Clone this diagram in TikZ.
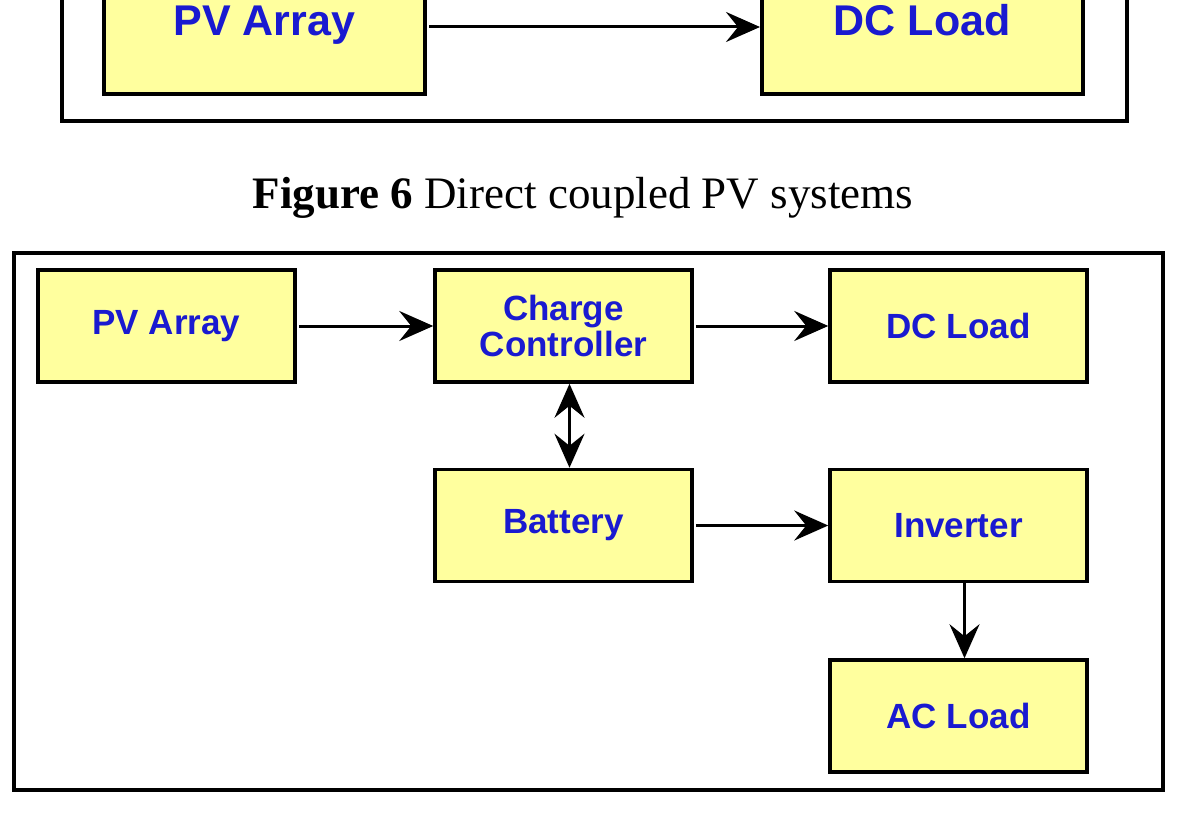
\documentclass[tikz,border=0pt]{standalone}
\usepackage{fontspec}
\setmainfont{Liberation Serif}
\newfontfamily\boxfont{Liberation Sans}
\usetikzlibrary{arrows.meta}
\definecolor{boxfill}{HTML}{FFFF9E}
\definecolor{boxtext}{HTML}{1A1AD0}
\tikzset{
  blk/.style={draw=black, line width=3.5pt, fill=boxfill, text=boxtext,
    font=\boxfont\bfseries\fontsize{35}{36}\selectfont, align=center,
    minimum width=257pt, minimum height=112pt, inner sep=0pt},
  big/.style={blk, minimum width=321pt, minimum height=148pt, text height=31pt, text depth=0pt,
    font=\boxfont\bfseries\fontsize{43}{46}\selectfont},
  frame/.style={draw=black, line width=3.5pt},
  arr/.style={line width=3pt, -{Stealth[length=34pt,width=30pt,inset=12pt]}},
  darr/.style={line width=3pt, {Stealth[length=34pt,width=30pt,inset=12pt]}-{Stealth[length=34pt,width=30pt,inset=12pt]}},
}
\begin{document}
\begin{tikzpicture}[x=1pt,y=-1pt]
\useasboundingbox (0,0) rectangle (1189,829);
\clip (0,0) rectangle (1189,829);
% top figure (cut off)
\draw[frame] (62,-20) rectangle (1127,121);
\node[big, anchor=south west] (pv0) at (102,96) {PV Array};
\node[big, anchor=south west] (dc0) at (760,96) {DC Load};
\draw[arr] (429,27) coordinate (a0) -- (a0 -| dc0.west);
\node (cap) at (583,198) {\fontsize{45}{48}\selectfont\textbf{Figure 6} Direct coupled PV systems};
% bottom figure
\draw[frame] (14,253) rectangle (1163,790);
\node[blk] (pv) at (166.5,326) {PV Array};
\node[blk] (cc) at (563.5,326) {Charge\\Controller};
\node[blk] (dc) at (958.5,326) {DC Load};
\node[blk] (bat) at (563.5,525.5) {Battery};
\node[blk] (inv) at (958.5,525.5) {Inverter};
\node[blk] (ac) at (958.5,716) {AC Load};
\draw[arr] (pv.east) ++(2,0) -- (cc.west);
\draw[arr] (cc.east) ++(2,0) -- (dc.west);
\draw[darr] ([xshift=6pt]cc.south) -- ([xshift=6pt]bat.north);
\draw[arr] (bat.east) ++(2,0) -- (inv.west);
\draw[arr] ([xshift=6pt]inv.south) -- ([xshift=6pt]ac.north);
\end{tikzpicture}
\end{document}
